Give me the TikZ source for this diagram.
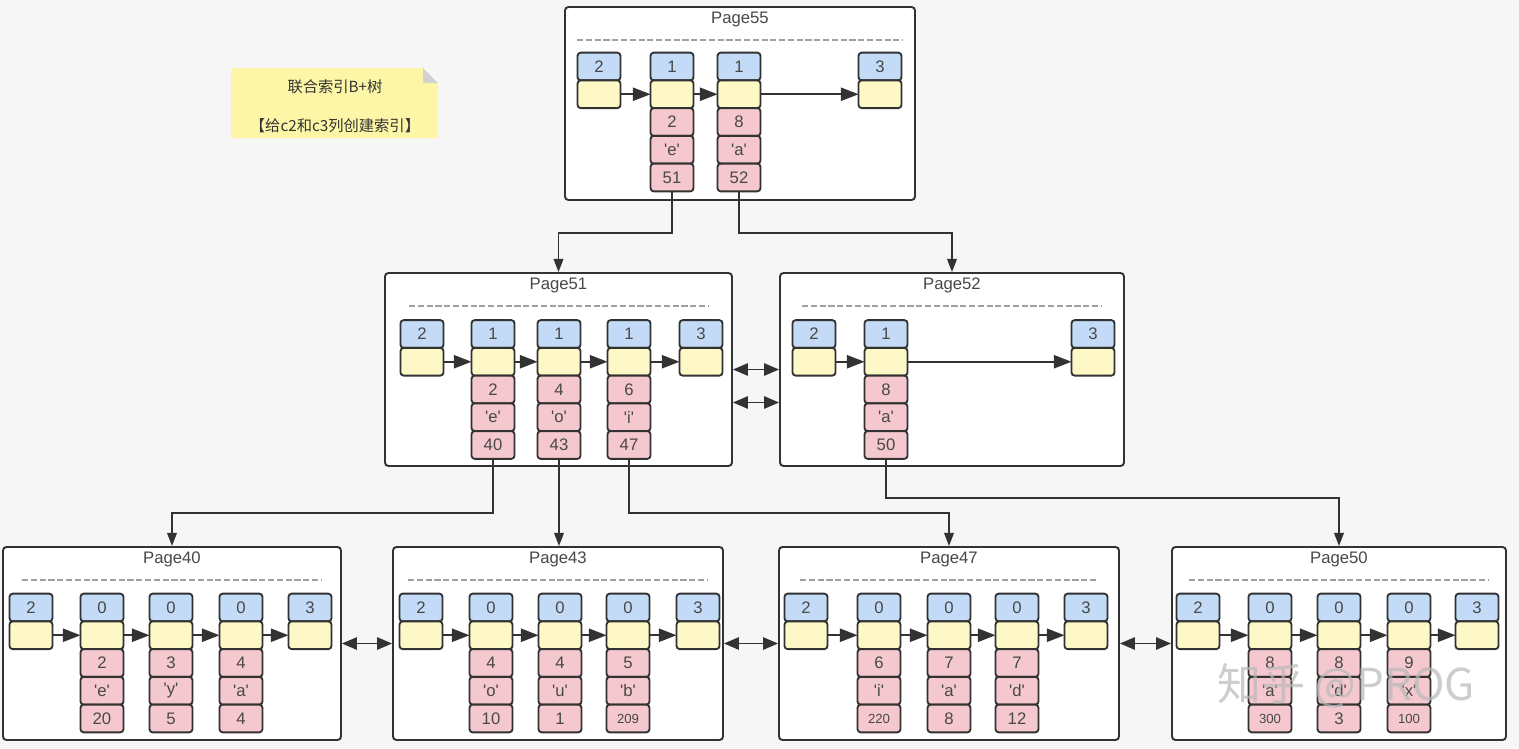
\documentclass[tikz,border=0pt]{standalone}
\usepackage{fontspec}
\setmainfont{Liberation Sans}[Ligatures=TeXOff]
\newfontfamily\cjk{Noto Sans CJK SC}
\usetikzlibrary{positioning,fit,arrows.meta}
\definecolor{bggray}{RGB}{246,246,246}
\definecolor{keyblue}{RGB}{195,219,246}
\definecolor{ptryellow}{RGB}{253,248,197}
\definecolor{datapink}{RGB}{244,200,206}
\definecolor{linegray}{RGB}{50,50,50}
\definecolor{textgray}{RGB}{72,72,72}
\definecolor{noteyellow}{RGB}{253,246,166}

% one column: key cell and pointer cell
\newcommand{\keycol}[4]{%
  \node[keycell] (#1-k) at (#2,#3) {#4};
  \node[ptrcell, below=0pt of #1-k] (#1-p) {};}
% the three record cells under a pointer
\newcommand{\datacol}[4]{%
  \node[datacell, below=0pt of #1-p] (#1-1) {#2};
  \node[datacell, below=0pt of #1-1] (#1-2) {#3};
  \node[datacell, below=0pt of #1-2] (#1-3) {#4};}
% page frame with title and dashed rule
\newcommand{\pagebox}[7]{%
  \node[pageframe, fit={(#3,#4) (#5,#6)}] (#1) {};
  \node[pagetitle] (#1-t) at ([yshift=-0.27cm]#1.north) {#2};
  \draw[sepline] ([xshift=#7, yshift=-0.68cm]#1.north west) -- ([xshift=-#7, yshift=-0.68cm]#1.north east);}
\newcommand{\q}[1]{'#1'}
\newcommand{\sm}[1]{{\fontsize{7.5}{9}\selectfont #1}}

\begin{document}
\begin{tikzpicture}[x=0.02cm, y=-0.02cm,
    pageframe/.style={draw=linegray, fill=white, line width=1.1pt, rounded corners=2pt, inner sep=0pt},
    pagetitle/.style={font=\fontsize{9.5}{11}\selectfont, text=textgray},
    sepline/.style={draw=gray!75, line width=0.75pt, dash pattern=on 3.5pt off 1.5pt},
    cell/.style={draw=linegray, line width=1.05pt, rounded corners=1.8pt, minimum width=0.86cm, minimum height=0.555cm, inner sep=0pt, outer sep=0pt, font=\fontsize{9.5}{11}\selectfont, text=textgray},
    keycell/.style={cell, fill=keyblue},
    ptrcell/.style={cell, fill=ptryellow},
    datacell/.style={cell, fill=datapink},
    chain/.style={draw=linegray, line width=1pt, -{Triangle[length=10pt,width=7.5pt]}},
    treeedge/.style={draw=linegray, line width=1pt, -{Triangle[length=7.5pt,width=5.5pt]}},
    sibling/.style={draw=linegray, line width=1pt, {Triangle[length=8.5pt,width=7pt]}-{Triangle[length=8.5pt,width=7pt]}},
    notetext/.style={font=\cjk\fontsize{8.7}{10}\selectfont, text=black!80}]

\fill[bggray] (0,0) rectangle (1519,748);
\useasboundingbox (0,0) rectangle (1519,748);

% note
\fill[noteyellow] (231,68) -- (423,68) -- (438,83) -- (438,138) -- (231,138) -- cycle;
\fill[gray!35] (423,68) -- (423,83) -- (438,83) -- cycle;
\node[notetext] (title) at (335,87) {联合索引B+树};
\node[notetext] (subtitle) at (335,126) {【给c2和c3列创建索引】};

% root page
\pagebox{p55}{Page55}{565}{7}{915}{200}{0.26cm}
\keycol{p55a}{599}{66.5}{2}
\keycol{p55b}{672}{66.5}{1}
\keycol{p55c}{739}{66.5}{1}
\keycol{p55d}{880}{66.5}{3}
\datacol{p55b}{2}{\q{e}}{51}
\datacol{p55c}{8}{\q{a}}{52}

% second level
\pagebox{p51}{Page51}{385}{273}{732}{466}{0.5cm}
\keycol{p51a}{422}{334}{2}
\keycol{p51b}{493}{334}{1}
\keycol{p51c}{559}{334}{1}
\keycol{p51d}{629}{334}{1}
\keycol{p51e}{701}{334}{3}
\datacol{p51b}{2}{\q{e}}{40}
\datacol{p51c}{4}{\q{o}}{43}
\datacol{p51d}{6}{\q{i}}{47}

\pagebox{p52}{Page52}{780}{273}{1124}{466}{0.46cm}
\keycol{p52a}{814}{334}{2}
\keycol{p52b}{886}{334}{1}
\keycol{p52c}{1093}{334}{3}
\datacol{p52b}{8}{\q{a}}{50}

% leaf pages
\pagebox{p40}{Page40}{3}{547}{341}{740}{0.4cm}
\keycol{p40a}{31}{607.5}{2}
\keycol{p40b}{102}{607.5}{0}
\keycol{p40c}{171}{607.5}{0}
\keycol{p40d}{241}{607.5}{0}
\keycol{p40e}{310}{607.5}{3}
\datacol{p40b}{2}{\q{e}}{20}
\datacol{p40c}{3}{\q{y}}{5}
\datacol{p40d}{4}{\q{a}}{4}

\pagebox{p43}{Page43}{393}{547}{723}{740}{0.32cm}
\keycol{p43a}{421}{607.5}{2}
\keycol{p43b}{491}{607.5}{0}
\keycol{p43c}{560}{607.5}{0}
\keycol{p43d}{628}{607.5}{0}
\keycol{p43e}{698}{607.5}{3}
\datacol{p43b}{4}{\q{o}}{10}
\datacol{p43c}{4}{\q{u}}{1}
\datacol{p43d}{5}{\q{b}}{\sm{209}}

\pagebox{p47}{Page47}{779}{547}{1119}{740}{0.44cm}
\keycol{p47a}{806}{607.5}{2}
\keycol{p47b}{879}{607.5}{0}
\keycol{p47c}{949}{607.5}{0}
\keycol{p47d}{1017}{607.5}{0}
\keycol{p47e}{1086}{607.5}{3}
\datacol{p47b}{6}{\q{i}}{\sm{220}}
\datacol{p47c}{7}{\q{a}}{8}
\datacol{p47d}{7}{\q{d}}{12}

\pagebox{p50}{Page50}{1172}{547}{1506}{740}{0.36cm}
\keycol{p50a}{1198}{607.5}{2}
\keycol{p50b}{1270}{607.5}{0}
\keycol{p50c}{1339}{607.5}{0}
\keycol{p50d}{1409}{607.5}{0}
\keycol{p50e}{1477}{607.5}{3}
\datacol{p50b}{8}{\q{a}}{\sm{300}}
\datacol{p50c}{8}{\q{d}}{3}
\datacol{p50d}{9}{\q{x}}{\sm{100}}

% pointer chains inside the pages
\foreach \a/\b in {p55a/p55b, p55b/p55c, p55c/p55d,
                   p51a/p51b, p51b/p51c, p51c/p51d, p51d/p51e,
                   p52a/p52b, p52b/p52c,
                   p40a/p40b, p40b/p40c, p40c/p40d, p40d/p40e,
                   p43a/p43b, p43b/p43c, p43c/p43d, p43d/p43e,
                   p47a/p47b, p47b/p47c, p47c/p47d, p47d/p47e,
                   p50a/p50b, p50b/p50c, p50c/p50d, p50d/p50e}
  \draw[chain] (\a-p) -- (\b-p);

% child pointers
\draw[treeedge] (p55b-3.south) -- ++(0,42) -| (p51.north);
\draw[treeedge] (p55c-3.south) -- ++(0,42) -| (p52.north);
\draw[treeedge] (p51b-3.south) -- ++(0,54) -| (p40.north);
\draw[treeedge] (p51c-3.south) -- (p51c-3.south |- p43.north);
\draw[treeedge] (p51d-3.south) -- ++(0,54) -| (p47.north);
\draw[treeedge] (p52b-3.south) -- ++(0,39) -| (p50.north);

% sibling links
\draw[sibling] (p51.east) -- (p52.west);
\draw[sibling] ([yshift=-0.66cm]p51.east) -- ([yshift=-0.66cm]p52.west);
\draw[sibling] (p40.east) -- (p43.west);
\draw[sibling] (p43.east) -- (p47.west);
\draw[sibling] (p47.east) -- (p50.west);

% watermark
\node[font=\cjk\fontsize{25}{28}\selectfont, text=gray!55, opacity=0.7] (mark) at (1346,686) {知乎 @PROG};
\end{tikzpicture}
\end{document}
